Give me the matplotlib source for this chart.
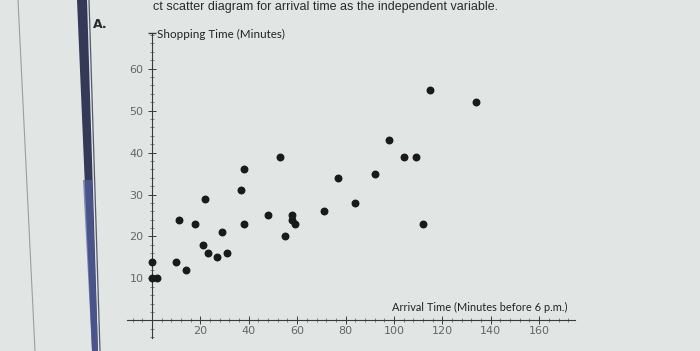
## for plotting
import matplotlib.pyplot as plt
from matplotlib.lines import Line2D
from matplotlib.patches import Polygon
from matplotlib.ticker import MultipleLocator

## data
arrival = [0, 0, 2, 10, 11, 14, 18, 22, 21, 23, 27, 29, 31, 37, 38, 38,
           48, 53, 55, 58, 58, 59, 71, 77, 84, 92, 98, 104, 109, 112, 115, 134]
shopping = [14, 10, 10, 14, 24, 12, 23, 29, 18, 16, 15, 21, 16, 31, 36, 23,
            25, 39, 20, 25, 24, 23, 26, 34, 28, 35, 43, 39, 39, 23, 55, 52]
x_ticks = [20, 40, 60, 80, 100, 120, 140, 160]
y_ticks = [10, 20, 30, 40, 50, 60]

bg = '#e1e6e5'
narrow = ['Lato', 'DejaVu Sans']
fig = plt.figure(figsize=(7, 3.51), dpi=100, facecolor=bg)

## screen photo bits: edge lines and the dark bar on the left
def px(x, y):
    return (x / 700, 1 - y / 351)

fig.add_artist(Line2D([px(18, 0)[0], px(35, 351)[0]], [1, 0], color='#9a9ea0', lw=0.8))
fig.add_artist(Polygon([px(77, 0), px(87, 0), px(98, 351), px(92, 351)],
                       closed=True, color='#343957', lw=0))
fig.add_artist(Polygon([px(83, 180), px(92, 180), px(98, 351), px(92, 351)],
                       closed=True, color='#5560a0', lw=0, alpha=0.7))
fig.add_artist(Line2D([px(89, 0)[0], px(100, 351)[0]], [1, 0], color='#55596a', lw=0.9))

fig.text(*px(498, 1), 'ct scatter diagram for arrival time as the independent variable.',
         ha='right', va='top', fontsize=9, color='#2a2a2a', family=['Liberation Sans', 'DejaVu Sans'])
fig.text(*px(100, 24), 'A.', ha='center', va='center', fontsize=9, color='#2a2a2a',
         fontweight='bold')

ax = fig.add_axes([127 / 700, 1 - 338 / 351, 448 / 700, 305 / 351])
ax.set_facecolor('none')
ax.set_xlim(-10.3, 174.8)
ax.set_ylim(-4.2, 68.5)

for s in ['top', 'right']:
    ax.spines[s].set_visible(False)
ax.spines['left'].set_position(('data', 0))
ax.spines['bottom'].set_position(('data', 0))
for s in ['left', 'bottom']:
    ax.spines[s].set_color('#3a3a3a')
    ax.spines[s].set_linewidth(0.8)

ax.set_xticks(x_ticks)
ax.set_yticks(y_ticks)
ax.xaxis.set_minor_locator(MultipleLocator(4))
ax.yaxis.set_minor_locator(MultipleLocator(2))
ax.tick_params(which='major', direction='inout', length=6, width=0.7,
               colors='#3a3a3a', labelcolor='#666666', labelsize=8)
ax.tick_params(which='minor', direction='inout', length=3, width=0.5, colors='#555555')
ax.tick_params(axis='x', pad=1)
ax.tick_params(axis='y', pad=3)

## cap on top of y axis
ax.plot([0], [68.5], marker='_', markersize=6, color='#3a3a3a', clip_on=False)

ax.scatter(arrival, shopping, s=22, color='#1a1a1a', zorder=3, clip_on=False)

fig.text(*px(157, 34), 'Shopping Time (Minutes)', ha='left', va='center',
         fontsize=8.4, color='#222222', family=narrow)
fig.text(*px(568, 307), 'Arrival Time (Minutes before 6 p.m.)', ha='right', va='center',
         fontsize=7.9, color='#222222', family=narrow)

fig.savefig('out.png', dpi=100, facecolor=bg)
